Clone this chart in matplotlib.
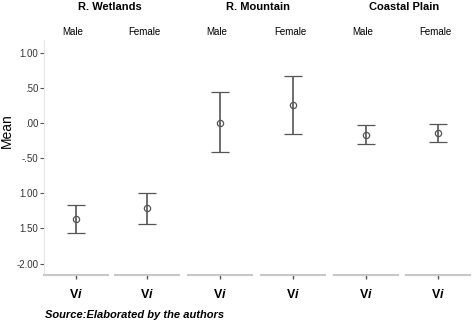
import matplotlib
matplotlib.use("Agg")
import matplotlib.pyplot as plt

plt.rcParams['font.family'] = ['Liberation Sans', 'DejaVu Sans']
plt.rcParams['mathtext.fontset'] = 'custom'
plt.rcParams['mathtext.rm'] = 'Liberation Sans'
plt.rcParams['mathtext.bf'] = 'Liberation Sans:bold'
plt.rcParams['mathtext.it'] = 'Liberation Sans:bold:italic'

regions = ["R. Wetlands", "R. Mountain", "Coastal Plain"]
genders = ["Male", "Female"]
means = [-1.37, -1.21, 0.00, 0.26, -0.17, -0.14]
lower = [-1.57, -1.44, -0.41, -0.16, -0.30, -0.27]
upper = [-1.17, -1.00, 0.44, 0.67, -0.03, -0.01]
ytick_vals = [1.0, 0.5, 0.0, -0.5, -1.0, -1.5, -2.0]
ytick_labels = ["1.00", ".50", ".00", "-.50", "1.00", "1.50", "-2.00"]

W, H = 474, 323
fig = plt.figure(figsize=(W / 100, H / 100), dpi=100)

# panel centres in pixels
centres = [76, 147, 220, 293, 366, 438]
pw = 64
top_px, bot_px = 40, 275
ymin = -(bot_px - 123) / 70.3
ymax = (123 - top_px) / 70.3

for i, c in enumerate(centres):
    ax = fig.add_axes([(c - pw / 2) / W, (H - bot_px) / H, pw / W, (bot_px - top_px) / H])
    ax.errorbar([0], [means[i]],
                yerr=[[means[i] - lower[i]], [upper[i] - means[i]]],
                fmt='o', mfc='none', mec='#555555', ms=4.5, mew=0.9,
                ecolor='#555555', elinewidth=1.2, capsize=6.5, capthick=1.2)
    ax.set_xlim(-1, 1)
    ax.set_ylim(ymin, ymax)
    ax.set_facecolor('none')
    for s in ['top', 'right', 'left']:
        ax.spines[s].set_visible(False)
    ax.spines['bottom'].set_color('#c8c8c8')
    ax.spines['bottom'].set_linewidth(1.5)
    ax.set_xticks([0], [r"$\mathbf{V}\mathit{i}$"], fontsize=9)
    ax.tick_params(axis='x', length=3, width=1, color='#555555', pad=6)
    if i == 0:
        ax.spines['left'].set_visible(True)
        ax.spines['left'].set_color('#e6e6e6')
        ax.spines['left'].set_linewidth(0.8)
        ax.set_yticks(ytick_vals, ytick_labels, fontsize=7, color='#333333')
        ax.tick_params(axis='y', length=3, width=0.8, color='#555555', pad=1)
    else:
        ax.set_yticks([])
    fig.text((c - 3) / W, 1 - 32 / H, genders[i % 2], ha='center', va='center', fontsize=7)

group_x = [110, 258, 404]
for name, gx in zip(regions, group_x):
    fig.text(gx / W, 1 - 7 / H, name, ha='center', va='center',
             fontsize=8, fontweight='bold')

fig.text(7 / W, 1 - 131 / H, "Mean", rotation=90, ha='center', va='center', fontsize=10)
fig.text(135 / W, 1 - 315 / H, "Source:Elaborated by the authors", ha='center',
         va='center', fontsize=8, fontweight='bold', fontstyle='italic')

fig.savefig("out.png", dpi=100)
